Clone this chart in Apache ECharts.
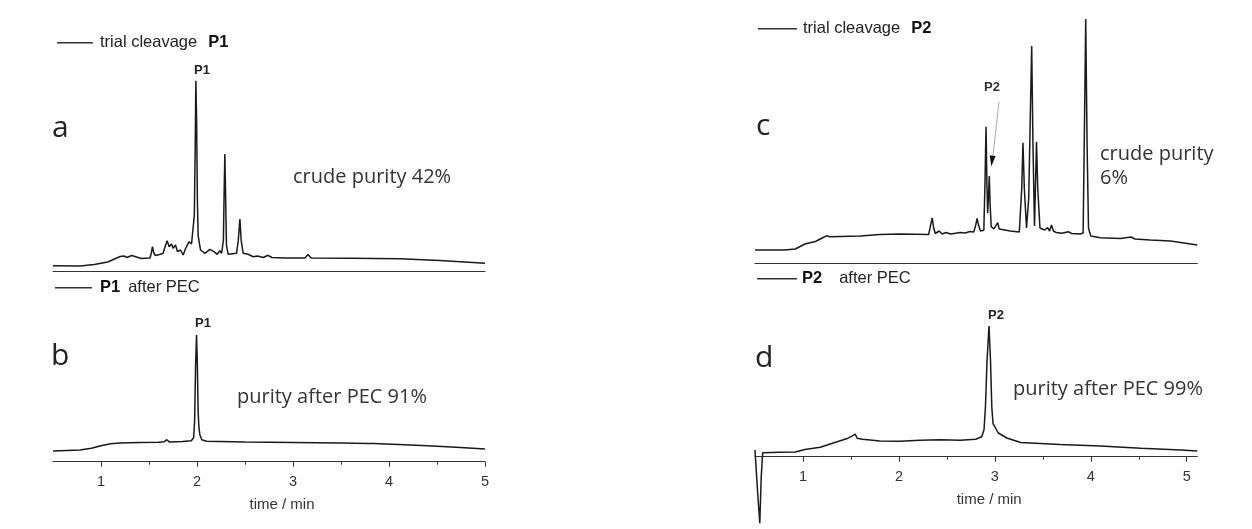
<!DOCTYPE html>
<html>
<head>
<meta charset="utf-8">
<script src="https://cdn.jsdelivr.net/npm/echarts@6/dist/echarts.min.js"></script>
<style>
html,body{margin:0;padding:0;background:#fff;}
#chart{width:1252px;height:529px;}
</style>
</head>
<body>
<div id="chart"></div>
<script>
// time (min), signal (arbitrary units)
const traceA = [[0.50,5.7],[0.78,5.4],[0.93,6.9],[1.07,9.4],[1.14,12.4],[1.20,14.9],[1.24,15.4],[1.27,13.9],[1.32,15.9],[1.37,14.4],[1.42,12.9],[1.51,13.4],[1.524,18.4],[1.536,24.7],[1.55,18.4],[1.566,15.9],[1.61,16.9],[1.647,18.1],[1.67,25.4],[1.689,30.7],[1.71,24.7],[1.735,27.4],[1.751,23.1],[1.776,26.4],[1.797,19.7],[1.828,21.4],[1.856,16.4],[1.879,22.4],[1.891,24.7],[1.918,29.7],[1.943,27.4],[1.96,28.1],[1.972,56],[1.981,121],[1.988,190.7],[1.996,151],[2.004,71],[2.012,36],[2.025,28],[2.037,21.4],[2.082,18.1],[2.134,22.1],[2.176,19.7],[2.21,17.1],[2.238,20.7],[2.256,18.1],[2.275,31],[2.283,81],[2.29,117.4],[2.298,76],[2.307,26],[2.325,17.1],[2.412,18.1],[2.43,31],[2.447,52.4],[2.46,31],[2.481,18.1],[2.533,17.1],[2.585,14.7],[2.63,15.4],[2.69,13.9],[2.74,16.1],[2.78,13.9],[2.915,13.4],[3.125,13.4],[3.156,16.9],[3.19,13.4],[3.594,13.1],[4.115,12.6],[4.53,10.9],[5.0,8.1]];
const traceB = [[0.5,10.7],[0.78,11.7],[0.9,13.5],[1.0,16],[1.1,18],[1.2,18.8],[1.4,19.2],[1.6,19.5],[1.66,20],[1.686,22],[1.71,19.8],[1.85,20.2],[1.94,21],[1.965,24],[1.975,40],[1.985,95],[1.995,126.7],[2.003,100],[2.012,50],[2.02,34],[2.03,27],[2.05,22],[2.1,20.5],[2.5,19.8],[3.0,19.2],[3.5,18.6],[3.79,18.2],[3.81,19.6],[3.84,18.2],[4.1,17.3],[4.4,16],[4.7,14.5],[5.0,12.7]];
const traceC = [[0.50,13.3],[0.81,13.3],[0.92,14.3],[1.02,19.3],[1.13,21.8],[1.20,25.3],[1.245,27.5],[1.28,26.6],[1.60,27.3],[1.80,28.8],[2.01,29.3],[2.31,28.8],[2.33,38],[2.347,45.3],[2.363,35],[2.38,29.8],[2.42,32.3],[2.45,29.3],[2.49,30.8],[2.54,29.3],[2.64,30.8],[2.69,30.3],[2.74,31.8],[2.78,31.3],[2.80,38],[2.815,45],[2.83,38],[2.85,32.3],[2.885,33],[2.897,80],[2.908,136.6],[2.917,80],[2.925,50],[2.935,70],[2.942,87.3],[2.95,60],[2.962,36.6],[2.975,35],[2.99,34.5],[3.005,35],[3.03,40.6],[3.045,34.3],[3.16,32.3],[3.255,31.3],[3.28,75],[3.293,120.6],[3.307,75],[3.33,35.3],[3.353,65],[3.37,150],[3.384,217.3],[3.397,120],[3.413,37.3],[3.424,80],[3.434,121.6],[3.447,75],[3.47,35.3],[3.52,33.3],[3.537,31.3],[3.55,35.6],[3.57,32.3],[3.59,38.3],[3.61,32.3],[3.64,30.8],[3.70,30],[3.765,31.6],[3.80,29.8],[3.89,29.3],[3.92,30.3],[3.933,130],[3.947,244.3],[3.961,120],[3.976,35],[4.0,27.3],[4.1,25.6],[4.31,24.8],[4.42,26.3],[4.46,24.3],[4.62,23.3],[4.83,22.3],[5.11,18.3]];
const traceD = [[0.50,6.7],[0.527,-35],[0.55,-66.6],[0.565,-20],[0.58,4],[0.76,4.4],[0.92,4.7],[1.02,7.2],[1.18,9.5],[1.34,14.5],[1.47,18.5],[1.52,21],[1.544,22.7],[1.565,18.5],[1.62,17.5],[1.70,16.7],[1.80,15.7],[2.01,15.4],[2.22,16.4],[2.43,17],[2.64,16.4],[2.80,17.4],[2.863,20],[2.887,27],[2.902,50],[2.918,95],[2.939,130.7],[2.955,95],[2.968,50],[2.981,33],[3.036,23.7],[3.124,18.7],[3.27,14.2],[3.68,12.2],[4.10,10.7],[4.52,8.4],[4.94,6.7],[5.11,5.7]];

const majorTicks = [1, 2, 3, 4, 5];
const minorTicks = [1.5, 2.5, 3.5, 4.5];

const axisColor = '#333';
const lineColor = '#1a1a1a';
const sans = '"Liberation Sans", Arial, sans-serif';

function lineOnlyAxis(grid, max) {
  return {gridIndex: grid, type: 'value', min: 0.5, max: max, position: 'bottom',
    axisLine: {show: true, onZero: false, lineStyle: {color: axisColor, width: 1}},
    axisTick: {show: false}, axisLabel: {show: false}, splitLine: {show: false}};
}
function mainAxis(grid, max) {
  return {gridIndex: grid, type: 'value', min: 0.5, max: max, position: 'bottom',
    axisLine: {show: true, onZero: false, lineStyle: {color: axisColor, width: 1}},
    axisTick: {show: true, length: 5, customValues: majorTicks, lineStyle: {color: axisColor}},
    axisLabel: {show: true, customValues: majorTicks, margin: 13, fontSize: 14.5, color: '#333', fontFamily: sans},
    splitLine: {show: false},
    name: 'time / min', nameLocation: 'middle', nameGap: 36,
    nameTextStyle: {fontSize: 15, color: '#333', fontFamily: sans, padding: [0, 0, 0, 26]}};
}
function minorAxis(grid, max) {
  return {gridIndex: grid, type: 'value', min: 0.5, max: max, position: 'bottom',
    axisLine: {show: false, onZero: false},
    axisTick: {show: true, length: 3, customValues: minorTicks, lineStyle: {color: axisColor}},
    axisLabel: {show: false}, splitLine: {show: false}};
}
function legendFor(name, left, centerY, width, fmt, boldPad, normPad) {
  return {data: [{name: name, icon: 'rect'}], left: left, top: centerY - 6.75, padding: 0,
    itemWidth: width, itemHeight: 1.5, itemStyle: {color: '#333'},
    selectedMode: false, formatter: fmt,
    textStyle: {rich: {
      n: {fontSize: 16.5, color: '#222', fontFamily: sans, padding: [0, 0, 0, normPad]},
      b: {fontSize: 16.5, fontWeight: 'bold', color: '#111', fontFamily: sans, padding: [0, 0, 0, boldPad]}
    }}};
}
function trace(name, xi, yi, data, extra) {
  return Object.assign({name: name, type: 'line', xAxisIndex: xi, yAxisIndex: yi, data: data,
    showSymbol: false, symbol: 'none', clip: false, smooth: false,
    lineStyle: {color: lineColor, width: 1.5}, itemStyle: {color: lineColor}}, extra || {});
}
function txt(text, x, y, font, fill, align) {
  return {type: 'text', x: x, y: y, silent: true,
    style: {text: text, font: font, fill: fill, textAlign: align || 'left', align: align || 'left',
      textVerticalAlign: 'middle', verticalAlign: 'middle'}};
}

const chart = echarts.init(document.getElementById('chart'), null, {renderer: 'canvas'});
const option = {
  animation: false,
  backgroundColor: '#ffffff',
  legend: [
    legendFor('trial cleavage P1', 57, 41, 36, '{n|trial cleavage}{b|P1}', 11, 2),
    legendFor('P1 after PEC', 55, 286, 37, '{b|P1}{n|after PEC}', 3, 8),
    legendFor('trial cleavage P2', 758, 27, 39, '{n|trial cleavage}{b|P2}', 11, 1),
    legendFor('P2 after PEC', 757, 277, 40, '{b|P2}{n|after PEC}', 0, 17)
  ],
  grid: [
    {left: 53, top: 71.4, width: 432, height: 200},
    {left: 53, top: 321.7, width: 432, height: 140},
    {left: 755, top: 13.3, width: 442.3, height: 250},
    {left: 755, top: 306.7, width: 442.3, height: 150}
  ],
  xAxis: [
    lineOnlyAxis(0, 5),
    mainAxis(1, 5), minorAxis(1, 5),
    lineOnlyAxis(2, 5.11),
    mainAxis(3, 5.11), minorAxis(3, 5.11)
  ],
  yAxis: [
    {gridIndex: 0, type: 'value', min: 0, max: 200, show: false},
    {gridIndex: 1, type: 'value', min: 0, max: 140, show: false},
    {gridIndex: 2, type: 'value', min: 0, max: 250, show: false},
    {gridIndex: 3, type: 'value', min: 0, max: 150, show: false}
  ],
  series: [
    trace('trial cleavage P1', 0, 0, traceA),
    trace('P1 after PEC', 1, 1, traceB),
    trace('trial cleavage P2', 3, 2, traceC, {
      markLine: {silent: true, symbol: ['none', 'none'], label: {show: false},
        lineStyle: {color: '#aaaaaa', width: 1, type: 'solid'},
        data: [[{coord: [3.043, 161.6]}, {coord: [2.981, 108.3]}]]},
      markPoint: {silent: true, label: {show: false},
        data: [{coord: [2.970, 102.3], symbol: 'triangle', symbolSize: [6, 11], symbolRotate: 173,
          itemStyle: {color: '#111'}}]}
    }),
    trace('P2 after PEC', 4, 3, traceD)
  ],
  graphic: [
    txt('P1', 202, 70, 'bold 13px "Liberation Sans", Arial', '#222', 'center'),
    txt('P1', 203, 323, 'bold 13px "Liberation Sans", Arial', '#222', 'center'),
    txt('P2', 992, 87, 'bold 13px "Liberation Sans", Arial', '#333', 'center'),
    txt('P2', 996, 315, 'bold 13px "Liberation Sans", Arial', '#222', 'center'),
    txt('a', 52, 128, '30px "Open Sans"', '#222'),
    txt('b', 51, 356, '30px "Open Sans"', '#222'),
    txt('c', 756, 126, '30px "Open Sans"', '#222'),
    txt('d', 755, 358, '30px "Open Sans"', '#222'),
    txt('crude purity 42%', 293, 177, '20px "Open Sans"', '#333'),
    txt('purity after PEC 91%', 237, 397, '20px "Open Sans"', '#333'),
    txt('crude purity', 1100, 154, '20px "Open Sans"', '#333'),
    txt('6%', 1100, 178, '20px "Open Sans"', '#333'),
    txt('purity after PEC 99%', 1013, 389, '20px "Open Sans"', '#333')
  ]
};
chart.setOption(option);
</script>
</body>
</html>
